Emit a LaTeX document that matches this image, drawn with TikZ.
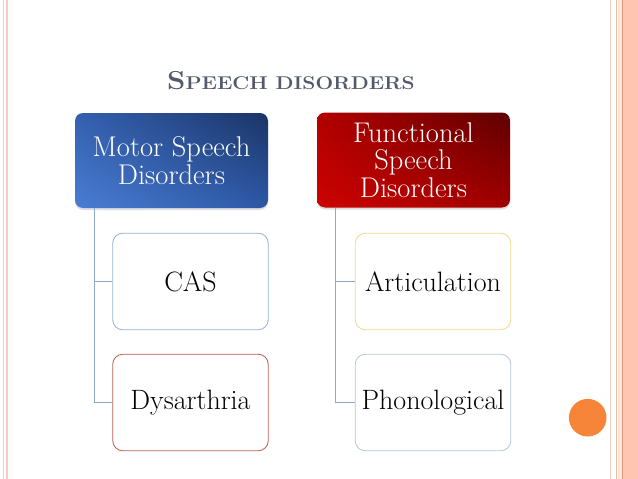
\documentclass[tikz,border=0pt]{standalone}
\usepackage{fontspec}
\usetikzlibrary{shadows,shadings}
\definecolor{titlegrey}{HTML}{535A6A}
\definecolor{linkc}{HTML}{8EA9CC}
\definecolor{casc}{HTML}{95B3D7}
\definecolor{dysc}{HTML}{B9604F}
\definecolor{artc}{HTML}{F3D88A}
\definecolor{phoc}{HTML}{B8C6DB}
\definecolor{dotc}{HTML}{F6853A}
\definecolor{bordA}{HTML}{F5CDBE}
\definecolor{bordB}{HTML}{EFB9A3}
\definecolor{bordC}{HTML}{E39A7C}
\definecolor{bordP}{HTML}{FDE6DC}
\definecolor{bordF}{HTML}{FFC5B1}
\definecolor{blueA}{HTML}{4A7DD3}
\definecolor{blueB}{HTML}{3460B0}
\definecolor{blueC}{HTML}{2D58A6}
\definecolor{blueD}{HTML}{1A3466}
\definecolor{redA}{HTML}{CC0202}
\definecolor{redB}{HTML}{B20000}
\definecolor{redC}{HTML}{A00000}
\definecolor{redD}{HTML}{5E0000}
\begin{document}
\begin{tikzpicture}[x=1pt,y=1pt,
  headbox/.style={rounded corners=8pt, minimum width=193pt, minimum height=95pt,
    align=center, text=white, inner sep=0pt,
    font=\fontsize{28.5}{27.5}\selectfont,
    drop shadow={shadow xshift=0pt, shadow yshift=-2pt, opacity=0.25}},
  leafbox/.style={draw, line width=0.8pt, rounded corners=10pt, minimum width=155.5pt,
    minimum height=96.5pt, fill=white, inner sep=0pt,
    font=\fontsize{28}{28}\selectfont},
  link/.style={draw=linkc, line width=0.9pt}]
\useasboundingbox (0,0) rectangle (638,-479);
\fill[white] (0,0) rectangle (638,-479);
% page borders
\draw[bordA, line width=1.2pt] (3.5,0) -- (3.5,-479);
\draw[bordA, line width=1.2pt] (7,0) -- (7,-479);
\draw[bordA, line width=1.5pt] (610.7,0) -- (610.7,-479);
\draw[bordB, line width=1.5pt] (616.7,0) -- (616.7,-479);
\fill[bordP] (618,0) rectangle (622,-479);
\draw[bordC, line width=1pt] (622.5,0) -- (622.5,-479);
\fill[bordF] (623,0) rectangle (638,-479);
% title
\node[anchor=base, text=titlegrey, inner sep=0pt] (title) at (291,-89.5)
  {\scalebox{1.13}[1]{\bfseries\fontsize{26}{26}\selectfont S\fontsize{18.5}{18.5}\selectfont PEECH DISORDERS}};
% heads
\node[headbox, lower left=blueA, upper left=blueB, lower right=blueC, upper right=blueD]
  (m) at (171.5,-160.5) {Motor Speech\\Disorders};
\node[headbox, lower left=redA, upper left=redB, lower right=redC, upper right=redD]
  (f) at (413.5,-160) {Functional\\Speech\\Disorders};
% leaves
\node[leafbox, draw=casc] (cas) at (190.5,-281.5) {CAS};
\node[leafbox, draw=dysc] (dys) at (190.5,-402.5) {Dysarthria};
\node[leafbox, draw=artc] (art) at (433,-281.5) {Articulation};
\node[leafbox, draw=phoc] (pho) at (433,-402.5) {Phonological};
% connectors
\draw[link] ([xshift=-77.5pt]m.south) |- (cas.west);
\draw[link] ([xshift=-77.5pt]m.south) |- (dys.west);
\draw[link] ([xshift=-77.8pt]f.south) |- (art.west);
\draw[link] ([xshift=-77.8pt]f.south) |- (pho.west);
% orange dot
\node[circle, fill=dotc, minimum size=37.6pt, inner sep=0pt] (dot) at (587.7,-417.7) {};
\end{tikzpicture}
\end{document}
